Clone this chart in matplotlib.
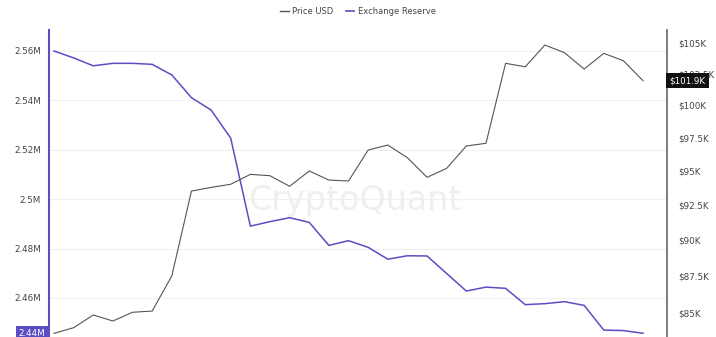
import math
import numpy as np
import matplotlib
matplotlib.use("Agg")
from matplotlib import pyplot as plt
from matplotlib import ticker

# daily values (31 points)
reserve = [2.5600, 2.5572, 2.5540, 2.5550, 2.5550, 2.5546, 2.5503, 2.5411, 2.5361, 2.5247,
           2.4891, 2.4909, 2.4925, 2.4906, 2.4813, 2.4832, 2.4805, 2.4757, 2.4771, 2.4770,
           2.4699, 2.4628, 2.4644, 2.4639, 2.4573, 2.4577, 2.4585, 2.4570, 2.4470, 2.4468,
           2.4457]
price = [83.66, 84.03, 84.87, 84.47, 85.05, 85.13, 87.50, 93.51, 93.78, 94.01,
         94.74, 94.64, 93.86, 94.99, 94.32, 94.25, 96.56, 96.94, 95.98, 94.52,
         95.19, 96.87, 97.07, 103.34, 103.06, 104.83, 104.20, 102.88, 104.15, 103.55,
         101.94]

left_ticks = [2.46, 2.48, 2.50, 2.52, 2.54, 2.56]
left_labels = ["2.46M", "2.48M", "2.5M", "2.52M", "2.54M", "2.56M"]
right_ticks = [85, 87.5, 90, 92.5, 95, 97.5, 100, 102.5, 105]
right_labels = ["$85K", "$87.5K", "$90K", "$92.5K", "$95K", "$97.5K", "$100K", "$102.5K", "$105K"]

purple = "#5a4ec4"
gray_line = "#555555"
x = np.arange(len(reserve))

fig = plt.figure(figsize=(7.16, 3.37), dpi=100)
ax = fig.add_axes([49/716, 0.0, 618/716, 1 - 30/337])
ax2 = ax.twinx()

ax.plot(x, reserve, color=purple, lw=1.1, zorder=3)
ax2.plot(x, price, color=gray_line, lw=0.8, zorder=3)

ax.set_xlim(-0.255, 31.22)
ax.set_ylim(2.4442, 2.5685)
ax2.set_yscale("log")
ax2.set_ylim(83.42, 106.07)

ax.set_yticks(left_ticks)
ax.set_yticklabels(left_labels)
ax2.yaxis.set_major_locator(ticker.FixedLocator(right_ticks))
ax2.yaxis.set_major_formatter(ticker.FixedFormatter(right_labels))
ax2.yaxis.set_minor_locator(ticker.NullLocator())
ax.set_xticks([])

ax.tick_params(axis="y", length=0, labelsize=6.3, labelcolor="#444444", pad=6)
ax2.tick_params(axis="y", length=0, labelsize=6.3, labelcolor="#444444", pad=8)
ax.grid(axis="y", color="#f0f0f0", lw=0.8)
ax.set_axisbelow(True)

for a in (ax, ax2):
    for s in a.spines.values():
        s.set_visible(False)
ax2.spines["left"].set_visible(True)
ax2.spines["left"].set_color(purple)
ax2.spines["left"].set_linewidth(1.5)
ax2.spines["right"].set_visible(True)
ax2.spines["right"].set_color("#666666")
ax2.spines["right"].set_linewidth(1.2)

# watermark
ax.text(0.495, 0.446, "CryptoQuant", transform=ax.transAxes, ha="center", va="center",
        fontsize=24, color="#efefef", zorder=1)

# current value boxes
lab = "%.2fM" % (math.floor(reserve[-1] * 100) / 100)
ax.text(-0.006, reserve[-1], lab, transform=ax.get_yaxis_transform(), ha="right", va="center",
        fontsize=6.3, color="white", zorder=5, clip_on=False,
        bbox=dict(boxstyle="square,pad=0.3", fc=purple, ec="none"))
ax2.text(1.004, price[-1], "$%.1fK" % price[-1], transform=ax2.get_yaxis_transform(),
         ha="left", va="center", fontsize=6.3, color="white", zorder=5, clip_on=False,
         bbox=dict(boxstyle="square,pad=0.35", fc="#111111", ec="none"))

h1, = ax.plot([], [], color=gray_line, lw=1)
h2, = ax.plot([], [], color=purple, lw=1.2)
fig.legend([h1, h2], ["Price USD", "Exchange Reserve"], loc="center", bbox_to_anchor=(0.5, 1 - 11/337),
           ncol=2, frameon=False, fontsize=6, handlelength=1.0, handletextpad=0.4, columnspacing=1.5,
           labelcolor="#444444")

fig.savefig("out.png", dpi=100)
